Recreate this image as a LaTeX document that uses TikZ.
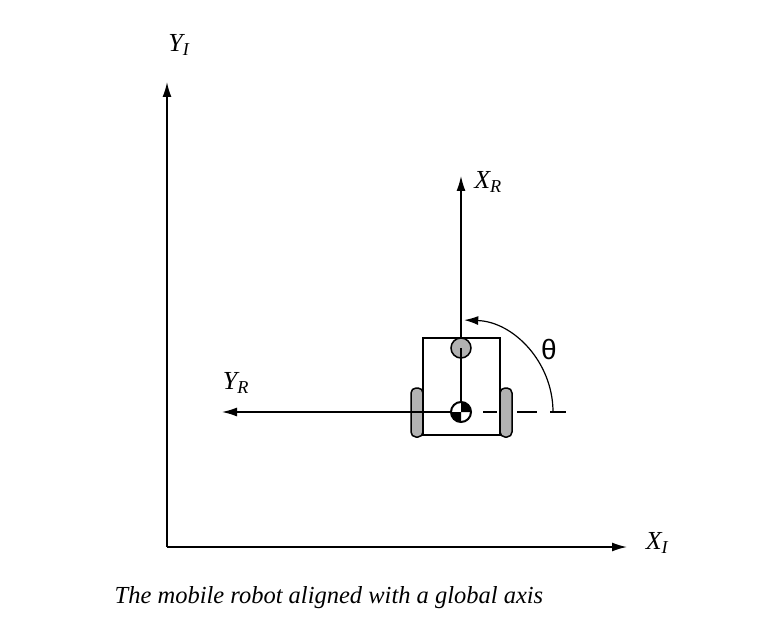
\documentclass[tikz,border=0pt]{standalone}
\usepackage{fontspec}
\setmainfont{Liberation Serif}
\newfontfamily\symfont{Liberation Sans}
\usetikzlibrary{arrows.meta}
\begin{document}
\begin{tikzpicture}[x=1pt,y=-1pt,
  axis/.style={line width=1.6pt,-{Latex[length=15pt,width=9pt]}},
  thin axis/.style={line width=1.3pt,-{Latex[length=15pt,width=9pt]}},
  wheel/.style={fill=gray!60,draw=black,line width=1.5pt,rounded corners=5pt},
  lbl/.style={font=\itshape\fontsize{26}{26}\selectfont}]
\useasboundingbox (0,0) rectangle (783,636);
\coordinate (O) at (167,547);
\coordinate (XIe) at (627,547);
\coordinate (YIe) at (167,82);
\draw[axis] (O) -- (XIe);
\draw[axis] (O) -- (YIe);
\node[lbl] (xi) at (657,543) {X\textsubscript{I}};
\node[lbl] (yi) at (179,45) {Y\textsubscript{I}};
% robot
\coordinate (C) at (461,412);
\draw[wheel] (411,388) rectangle (423,437);
\draw[wheel] (500,388) rectangle (512,437);
\draw[line width=2pt] (423,338) rectangle (500,435);
\coordinate (XRe) at (461,176);
\coordinate (YRe) at (222,412);
\draw[thin axis] (C) -- (XRe);
\draw[thin axis] (C) -- (YRe);
\node[lbl] (xr) at (488,182) {X\textsubscript{R}};
\node[lbl] (yr) at (236,383) {Y\textsubscript{R}};
\draw[line width=1.3pt] (483,412) -- (497,412) (517,412) -- (537,412) (550,412) -- (566,412);
\draw[line width=1.2pt,-{Latex[length=14pt,width=9pt]}] (553,412) arc[start angle=0,end angle=-88,radius=92];
\node[font=\symfont\fontsize{28}{28}\selectfont] (th) at (549,349) {θ};
\draw[fill=gray!60,line width=1.5pt] (461,348) circle (10);
\draw[line width=1.3pt] (461,348) -- (461,412);
\fill[white] (C) circle (10);
\fill[black] (C) -- (451,412) arc[start angle=180,end angle=90,radius=10] -- cycle;
\fill[black] (C) -- (471,412) arc[start angle=0,end angle=-90,radius=10] -- cycle;
\draw[line width=2pt] (C) circle (10);
\node[font=\itshape\fontsize{24.5}{25}\selectfont] (cap) at (329,598) {The mobile robot aligned with a global axis};
\end{tikzpicture}
\end{document}
